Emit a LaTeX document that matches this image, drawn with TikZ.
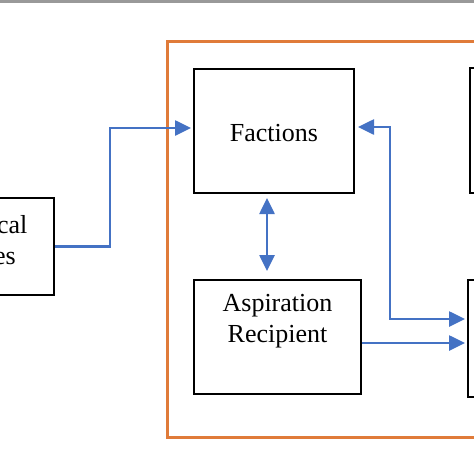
\documentclass[tikz,border=0pt]{standalone}
\usepackage{fontspec}
\setmainfont{Liberation Serif}
\usetikzlibrary{arrows.meta}
\definecolor{cblue}{HTML}{4472C4}
\definecolor{corange}{HTML}{E07B39}
\definecolor{cgray}{HTML}{999999}
\begin{document}
\begin{tikzpicture}[x=1pt,y=-1pt,
  boxstyle/.style={draw=black,line width=2pt,rectangle,inner sep=0pt,fill=white},
  txtstyle/.style={font=\fontsize{26}{31}\selectfont,align=center,inner sep=0pt},
  conn/.style={draw=cblue,line width=2.6pt,-{Triangle[length=16pt,width=15pt]},shorten >=2pt},
  dconn/.style={draw=cblue,line width=2.6pt,{Triangle[length=16pt,width=15pt]}-{Triangle[length=16pt,width=15pt]}}
]
\useasboundingbox (0,0) rectangle (474,474);
\clip (0,0) rectangle (474,474);
\fill[cgray] (0,0) rectangle (474,3);
% orange frame
\draw[corange,line width=3pt] (167,41) rectangle (700,437);
% boxes
\node[boxstyle,minimum width=160pt,minimum height=124pt] (fac) at (274,131) {};
\node[txtstyle] (factxt) at (274,133) {Factions};
\node[boxstyle,minimum width=167pt,minimum height=114pt] (asp) at (277.5,337) {};
\node[txtstyle] (asptxt) at (277.5,321) {Aspiration\\Recipient};
\node[boxstyle,minimum width=140pt,minimum height=97pt] (lft) at (-16,246.5) {};
\node[txtstyle] (lfttxt) at (-16,240) {Political\\Issues};
\node[boxstyle,minimum width=160pt,minimum height=125pt] (rt) at (550,130.5) {};
\node[boxstyle,minimum width=160pt,minimum height=117pt] (rb) at (548,338.5) {};
% connectors
\coordinate (c1) at (110,200);
\coordinate (c2) at (390,200);
\draw[conn] (lft.east) -| (c1) |- ([yshift=3pt]fac.west);
\draw[dconn,shorten <=4pt,shorten >=8pt] ([xshift=-7pt]fac.south) -- ([xshift=-7pt]fac.south |- asp.north);
\draw[dconn,shorten <=3pt,shorten >=2pt] ([yshift=4pt]fac.east) -| (c2) |- ([yshift=19.5pt]rb.west);
\draw[conn] ([yshift=-6pt]asp.east) -- ([yshift=-6pt]asp.east -| rb.west);
\end{tikzpicture}
\end{document}
